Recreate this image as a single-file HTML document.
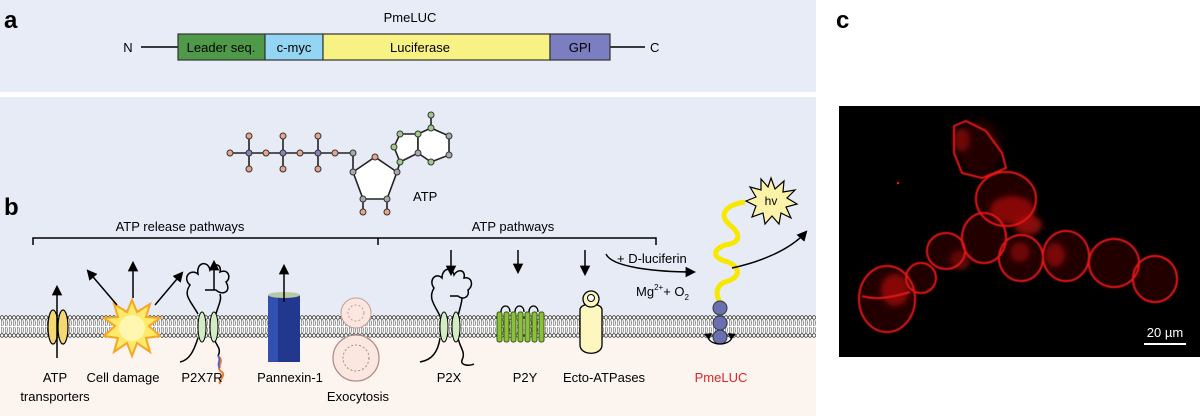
<!DOCTYPE html>
<html><head><meta charset="utf-8"><style>
html,body{margin:0;padding:0;background:#fff;}
svg{display:block;font-family:"Liberation Sans",sans-serif;}
</style></head><body>
<svg width="1200" height="416" viewBox="0 0 1200 416" xmlns="http://www.w3.org/2000/svg">
<defs>
<pattern id="mem" x="0" y="315" width="4" height="23" patternUnits="userSpaceOnUse">
<rect width="4" height="23" fill="#fff"/>
<circle cx="2" cy="2.5" r="1.8" fill="#fff" stroke="#333" stroke-width="0.8"/>
<circle cx="2" cy="20.5" r="1.8" fill="#fff" stroke="#333" stroke-width="0.8"/>
<path d="M1.2 5 Q2.5 8 1.2 11 M2.8 5 Q4 8 2.8 11 M1.2 12 Q2.5 15 1.2 18 M2.8 12 Q4 15 2.8 18" stroke="#555" stroke-width="0.6" fill="none"/>
</pattern>
<filter id="bl"><feGaussianBlur stdDeviation="3"/></filter>
<filter id="bl1"><feGaussianBlur stdDeviation="0.6"/></filter>
<marker id="ar" viewBox="0 0 10 10" refX="8" refY="5" markerWidth="7" markerHeight="7" orient="auto"><path d="M0 0L10 5L0 10z" fill="#000"/></marker>
</defs>
<rect x="0" y="0" width="816" height="92" fill="#e8ecf7"/>
<rect x="0" y="97" width="816" height="319" fill="#e6ebf6"/>
<rect x="0" y="328" width="816" height="88" fill="#fcf4ef"/>
<text x="4" y="28" font-size="24" font-weight="bold">a</text>
<text x="4" y="215" font-size="24" font-weight="bold">b</text>
<text x="836" y="28" font-size="24" font-weight="bold">c</text>
<text x="410" y="22" font-size="13" text-anchor="middle">PmeLUC</text>
<text x="128" y="52" font-size="13" text-anchor="middle">N</text>
<line x1="141" y1="47" x2="178" y2="47" stroke="#000" stroke-width="1.5"/>
<line x1="606" y1="47" x2="645" y2="47" stroke="#000" stroke-width="1.5"/>
<text x="650" y="52" font-size="13">C</text>
<rect x="178" y="34" width="87" height="26" fill="#4f9a48" stroke="#333" stroke-width="1.2"/>
<rect x="265" y="34" width="58" height="26" fill="#93d5f2" stroke="#333" stroke-width="1.2"/>
<rect x="323" y="34" width="227" height="26" fill="#f8f284" stroke="#333" stroke-width="1.2"/>
<rect x="550" y="34" width="60" height="26" fill="#7b7fc1" stroke="#333" stroke-width="1.2"/>
<g font-size="13" text-anchor="middle"><text x="221" y="52">Leader seq.</text><text x="294" y="52">c-myc</text><text x="420" y="52">Luciferase</text><text x="580" y="52">GPI</text></g>
<g stroke="#222" stroke-width="1.6" fill="none">
<line x1="230" y1="153" x2="353" y2="153"/>
<line x1="249" y1="136" x2="249" y2="169"/><line x1="283" y1="136" x2="283" y2="169"/><line x1="318" y1="136" x2="318" y2="169"/>
<line x1="353" y1="153" x2="353" y2="172"/>
<polygon points="375,157 397,172 387,199 363,199 353,172" fill="#fff"/>
<line x1="363" y1="199" x2="363" y2="212"/><line x1="387" y1="199" x2="387" y2="212"/>
<line x1="397" y1="172" x2="400" y2="162"/>
<polygon points="400,162 394,147 400,134 418,134 418,153" fill="#fff"/>
<polygon points="418,134 431,128 449,136 449,155 431,162 418,153" fill="#fff"/>
<line x1="431" y1="128" x2="431" y2="115"/>
</g>
<g stroke="#333" stroke-width="1">
<g fill="#e8a58a"><circle cx="230" cy="153" r="3"/><circle cx="266" cy="153" r="3"/><circle cx="300" cy="153" r="3"/><circle cx="335" cy="153" r="3"/><circle cx="249" cy="136" r="3"/><circle cx="249" cy="169" r="3"/><circle cx="283" cy="136" r="3"/><circle cx="283" cy="169" r="3"/><circle cx="318" cy="136" r="3"/><circle cx="318" cy="169" r="3"/><circle cx="375" cy="157" r="3"/><circle cx="363" cy="212" r="3"/><circle cx="387" cy="212" r="3"/></g>
<g fill="#8a7fc0"><circle cx="249" cy="153" r="3"/><circle cx="283" cy="153" r="3"/><circle cx="318" cy="153" r="3"/></g>
<g fill="#aaa"><circle cx="353" cy="153" r="3"/><circle cx="353" cy="172" r="3"/><circle cx="363" cy="199" r="3"/><circle cx="387" cy="199" r="3"/><circle cx="397" cy="172" r="3"/><circle cx="418" cy="153" r="3"/><circle cx="449" cy="136" r="3"/><circle cx="449" cy="155" r="3"/></g>
<g fill="#9fca8a"><circle cx="400" cy="162" r="3"/><circle cx="394" cy="147" r="3"/><circle cx="400" cy="134" r="3"/><circle cx="418" cy="134" r="3"/><circle cx="431" cy="128" r="3"/><circle cx="431" cy="115" r="3"/><circle cx="431" cy="162" r="3"/></g>
</g>
<text x="413" y="201" font-size="13">ATP</text>
<path d="M33 245V238H656V245M378 238V245" stroke="#000" stroke-width="1.5" fill="none"/>
<text x="180" y="231" font-size="13" text-anchor="middle">ATP release pathways</text>
<text x="513" y="231" font-size="13" text-anchor="middle">ATP pathways</text>
<rect x="0" y="315" width="816" height="23" fill="url(#mem)"/>
<ellipse cx="53" cy="327" rx="5" ry="17" fill="#f5d870" stroke="#000" stroke-width="1.2"/>
<ellipse cx="63" cy="327" rx="5" ry="17" fill="#f5d870" stroke="#000" stroke-width="1.2"/>
<line x1="57" y1="358" x2="57" y2="287" stroke="#000" stroke-width="1.5" marker-end="url(#ar)"/>
<polygon points="132,300 137,312 150,304 146,317 160,318 149,326 160,336 146,338 150,352 137,343 132,356 127,343 114,352 118,338 104,336 115,326 104,318 118,317 114,304 127,312" fill="#fde96a" stroke="#f5a623" stroke-width="2"/>
<circle cx="132" cy="328" r="13" fill="#fff6b0"/>
<g stroke="#000" stroke-width="1.5" marker-end="url(#ar)"><line x1="117" y1="305" x2="88" y2="271"/><line x1="133" y1="298" x2="133" y2="263"/><line x1="155" y1="305" x2="182" y2="273"/></g>
<g stroke="#000" stroke-width="1.5" fill="none">
<path d="M198 314C190 300 183 295 190 285C182 278 190 268 198 274C196 262 208 260 210 270C214 262 222 264 220 272C228 268 232 278 226 282C232 292 222 296 216 290L205 290M216 314C218 306 222 300 220 294"/>
<path d="M198 338C194 350 190 360 180 362M214 338C216 346 222 348 218 356"/>
</g>
<path d="M218 356C226 362 214 368 222 372C226 376 218 380 220 384" stroke="#f07a30" stroke-width="2" fill="none"/>
<path d="M218 356C222 360 216 364 220 368" stroke="#6a5fc0" stroke-width="2" fill="none"/>
<ellipse cx="202" cy="327" rx="4" ry="15" fill="#d4ecc4" stroke="#000"/><ellipse cx="214" cy="327" rx="4" ry="15" fill="#d4ecc4" stroke="#000"/>
<line x1="214" y1="290" x2="214" y2="262" stroke="#000" stroke-width="1.5" marker-end="url(#ar)"/>
<rect x="268" y="295" width="32" height="67" fill="#22388f"/>
<rect x="268" y="295" width="10" height="67" fill="#3250b0"/>
<ellipse cx="284" cy="295" rx="16" ry="3" fill="#b8c8a0"/>
<line x1="284" y1="302" x2="284" y2="266" stroke="#000" stroke-width="1.5" marker-end="url(#ar)"/>
<circle cx="356" cy="313" r="15" fill="#fbe6e0" stroke="#c99" stroke-width="1"/>
<circle cx="356" cy="358" r="23" fill="#fbe6e0" stroke="#a88" stroke-width="1.2"/>
<circle cx="356" cy="358" r="13" fill="none" stroke="#a88" stroke-dasharray="2 2"/>
<circle cx="356" cy="313" r="8" fill="none" stroke="#c99" stroke-dasharray="2 2"/>
<g stroke="#000" stroke-width="1.5" fill="none">
<path d="M440 316C434 304 428 298 434 288C428 280 436 272 442 278C442 268 452 266 454 275C458 268 466 270 464 278C472 276 474 286 468 290C470 298 462 300 458 296L450 296M458 316C460 308 462 302 462 298"/>
<path d="M440 338C438 352 432 360 420 362M458 338C460 348 466 352 462 360C460 366 470 366 474 364"/>
</g>
<ellipse cx="444" cy="327" rx="4" ry="15" fill="#d4ecc4" stroke="#000"/><ellipse cx="456" cy="327" rx="4" ry="15" fill="#d4ecc4" stroke="#000"/>
<g stroke="#000" stroke-width="1.5" marker-end="url(#ar)"><line x1="451" y1="250" x2="451" y2="274"/><line x1="518" y1="250" x2="518" y2="272"/><line x1="585" y1="250" x2="585" y2="274"/></g>
<g fill="#8cbf3a" stroke="#3a5a10" stroke-width="1"><rect x="497" y="312" width="5" height="30" rx="2"/><rect x="504" y="312" width="5" height="30" rx="2"/><rect x="511" y="312" width="5" height="30" rx="2"/><rect x="518" y="312" width="5" height="30" rx="2"/><rect x="525" y="312" width="5" height="30" rx="2"/><rect x="532" y="312" width="5" height="30" rx="2"/><rect x="539" y="312" width="5" height="30" rx="2"/></g>
<path d="M501 312C501 304 510 304 510 312M515 312C515 304 524 304 524 312M529 312C529 304 538 304 538 312" stroke="#000" stroke-width="1.3" fill="none"/>
<path d="M580 310C580 302 602 302 602 310V345C602 356 580 356 580 345Z" fill="#fdf6bf" stroke="#000" stroke-width="1.3"/>
<circle cx="591" cy="299" r="8" fill="#fdf6bf" stroke="#000" stroke-width="1.3"/>
<circle cx="591" cy="298" r="3.5" fill="#fff" stroke="#000"/>
<path d="M606 254C612 268 660 272 694 272" stroke="#000" stroke-width="1.5" fill="none" marker-end="url(#ar)"/>
<text x="617" y="263" font-size="13">+ D-luciferin</text>
<text x="636" y="296" font-size="13">Mg<tspan font-size="8" dy="-6">2+</tspan><tspan dy="6">+ O</tspan><tspan font-size="8" dy="4">2</tspan></text>
<path d="M745 202C725 205 718 215 730 225C742 235 740 243 725 245C712 250 712 258 728 262C742 268 740 278 725 282C715 286 716 296 720 302" stroke="#f8e800" stroke-width="5" fill="none"/>
<polygon points="771,178 775,189 784,181 783,192 795,190 787,198 797,204 786,207 791,218 781,213 779,224 772,216 765,224 763,213 752,217 756,206 746,201 756,197 750,187 761,190 761,179 768,187" fill="#fdf3a8" stroke="#000" stroke-width="1.2"/>
<text x="771" y="205" font-size="12" text-anchor="middle">hv</text>
<path d="M732 268C760 262 790 250 806 232" stroke="#000" stroke-width="1.5" fill="none" marker-end="url(#ar)"/>
<g fill="#6a6fb0" stroke="#334" stroke-width="1"><circle cx="720" cy="308" r="7"/><circle cx="720" cy="323" r="7"/><circle cx="720" cy="337" r="7"/></g>
<path d="M708 338C712 346 728 346 732 338" stroke="#000" stroke-width="1.3" fill="none"/>
<path d="M704 334L709 340L712 333Z M736 334L731 340L728 333Z" fill="#000"/>
<g font-size="13" text-anchor="middle">
<text x="55" y="382">ATP</text><text x="55" y="401">transporters</text>
<text x="123" y="382">Cell damage</text>
<text x="202" y="382">P2X7R</text>
<text x="290" y="382">Pannexin-1</text>
<text x="358" y="401">Exocytosis</text>
<text x="449" y="382">P2X</text>
<text x="525" y="382">P2Y</text>
<text x="604" y="382">Ecto-ATPases</text>
<text x="721" y="382" fill="#d8282a">PmeLUC</text>
</g>
<!-- panel c -->
<rect x="839" y="106" width="361" height="251" fill="#000"/>
<g filter="url(#bl)" fill="#c01010">
<ellipse cx="1012" cy="210" rx="22" ry="14" opacity="0.8"/>
<ellipse cx="1028" cy="225" rx="14" ry="10" opacity="0.7"/>
<ellipse cx="895" cy="290" rx="14" ry="16" opacity="0.8"/>
<ellipse cx="1020" cy="252" rx="10" ry="10" opacity="0.6"/>
<ellipse cx="1055" cy="255" rx="10" ry="12" opacity="0.7"/>
<ellipse cx="960" cy="260" rx="10" ry="10" opacity="0.5"/>
<ellipse cx="962" cy="140" rx="8" ry="12" opacity="0.6"/>
</g>
<g fill="#600" opacity="0.35" filter="url(#bl)">
<ellipse cx="980" cy="148" rx="22" ry="28"/><ellipse cx="1006" cy="199" rx="30" ry="27"/><ellipse cx="984" cy="238" rx="22" ry="25"/><ellipse cx="1021" cy="258" rx="22" ry="23"/><ellipse cx="1066" cy="256" rx="23" ry="25"/><ellipse cx="1114" cy="263" rx="25" ry="24"/><ellipse cx="1155" cy="279" rx="22" ry="23"/><ellipse cx="946" cy="251" rx="19" ry="18"/><ellipse cx="921" cy="278" rx="15" ry="15"/><ellipse cx="887" cy="299" rx="28" ry="33"/>
</g>
<g fill="none" stroke="#e41818" stroke-width="2" filter="url(#bl1)">
<path d="M954 126L966 121L986 131L1002 153L1006 168L982 178L962 173L954 153Z"/>
<ellipse cx="1006" cy="199" rx="30" ry="27"/>
<ellipse cx="984" cy="238" rx="22" ry="25"/>
<ellipse cx="1021" cy="258" rx="22" ry="23"/>
<ellipse cx="1066" cy="256" rx="23" ry="25"/>
<ellipse cx="1114" cy="263" rx="25" ry="24"/>
<ellipse cx="1155" cy="279" rx="22" ry="23"/>
<ellipse cx="946" cy="251" rx="19" ry="18"/>
<ellipse cx="921" cy="278" rx="15" ry="15"/>
<ellipse cx="887" cy="299" rx="28" ry="33"/>
<path d="M862 296C875 300 890 298 910 292"/>
</g>
<circle cx="898" cy="183" r="1.3" fill="#e01818"/>
<text x="1165" y="337" font-size="13" fill="#fff" text-anchor="middle">20 µm</text>
<line x1="1144" y1="344" x2="1186" y2="344" stroke="#fff" stroke-width="2"/>
</svg>
</body></html>
